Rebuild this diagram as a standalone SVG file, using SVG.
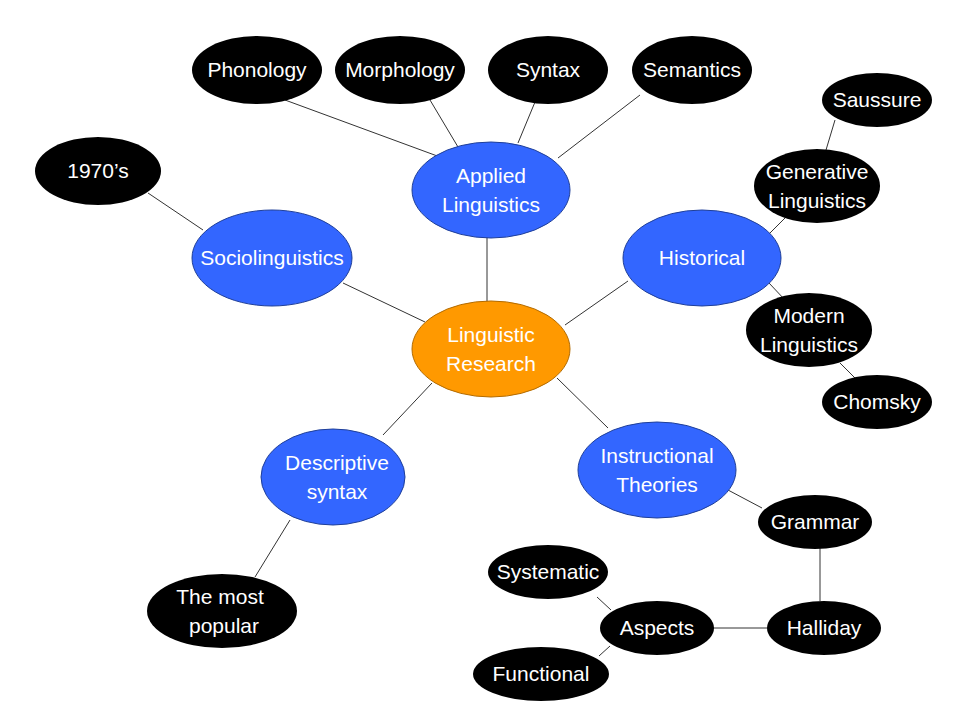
<svg xmlns="http://www.w3.org/2000/svg" width="960" height="720" viewBox="0 0 960 720">
<style>
.b{fill:#000}.u{fill:#3366ff;stroke:#1f3f99;stroke-width:1}.o{fill:#ff9900;stroke:#b36b00;stroke-width:1}
text{fill:#fff;font-family:"Liberation Sans",Arial,sans-serif;font-size:21px;text-anchor:middle}
#c line{stroke:#333;stroke-width:1}
</style>
<rect width="960" height="720" fill="#fff"/>
<g id="c">
<line x1="285" y1="100" x2="440" y2="157"/><line x1="430" y1="100" x2="458" y2="147"/>
<line x1="535" y1="102" x2="518" y2="143"/><line x1="640" y1="95" x2="558" y2="158"/>
<line x1="487" y1="236" x2="487" y2="302"/><line x1="148" y1="193" x2="203" y2="230"/>
<line x1="343" y1="283" x2="425" y2="322"/><line x1="628" y1="281" x2="565" y2="325"/>
<line x1="785" y1="218" x2="767" y2="236"/><line x1="769" y1="283" x2="785" y2="300"/>
<line x1="835" y1="120" x2="826" y2="150"/><line x1="840" y1="363" x2="855" y2="378"/>
<line x1="432" y1="383" x2="383" y2="435"/><line x1="557" y1="378" x2="608" y2="428"/>
<line x1="290" y1="520" x2="255" y2="577"/><line x1="728" y1="490" x2="762" y2="508"/>
<line x1="820" y1="548" x2="820" y2="601"/><line x1="713" y1="628" x2="767" y2="628"/>
<line x1="597" y1="597" x2="611" y2="610"/><line x1="610" y1="646" x2="599" y2="656"/>
</g>
<g id="center"><ellipse class="o" cx="491" cy="349" rx="79" ry="48"/><text x="491" y="342">Linguistic</text><text x="491" y="371">Research</text></g>
<g id="applied"><ellipse class="u" cx="491" cy="190" rx="79" ry="48"/><text x="491" y="183">Applied</text><text x="491" y="212">Linguistics</text></g>
<g id="socio"><ellipse class="u" cx="272" cy="258" rx="80" ry="48"/><text x="272" y="265">Sociolinguistics</text></g>
<g id="historical"><ellipse class="u" cx="702" cy="258" rx="79" ry="48"/><text x="702" y="265">Historical</text></g>
<g id="descriptive"><ellipse class="u" cx="333" cy="477" rx="72" ry="48"/><text x="337" y="470">Descriptive</text><text x="337" y="499">syntax</text></g>
<g id="instructional"><ellipse class="u" cx="657" cy="470" rx="79" ry="48"/><text x="657" y="463">Instructional</text><text x="657" y="492">Theories</text></g>
<g id="phonology"><ellipse class="b" cx="257" cy="70" rx="65" ry="34"/><text x="257" y="77">Phonology</text></g>
<g id="morphology"><ellipse class="b" cx="400" cy="70" rx="65" ry="34"/><text x="400" y="77">Morphology</text></g>
<g id="syntax"><ellipse class="b" cx="548" cy="70" rx="60" ry="34"/><text x="548" y="77">Syntax</text></g>
<g id="semantics"><ellipse class="b" cx="692" cy="70" rx="60" ry="34"/><text x="692" y="77">Semantics</text></g>
<g id="y1970"><ellipse class="b" cx="98" cy="171" rx="63" ry="34"/><text x="98" y="178">1970’s</text></g>
<g id="saussure"><ellipse class="b" cx="877" cy="100" rx="55" ry="27"/><text x="877" y="107">Saussure</text></g>
<g id="generative"><ellipse class="b" cx="817" cy="186" rx="63" ry="37"/><text x="817" y="179">Generative</text><text x="817" y="208">Linguistics</text></g>
<g id="modern"><ellipse class="b" cx="809" cy="330" rx="63" ry="37"/><text x="809" y="323">Modern</text><text x="809" y="352">Linguistics</text></g>
<g id="chomsky"><ellipse class="b" cx="877" cy="402" rx="55" ry="27"/><text x="877" y="409">Chomsky</text></g>
<g id="grammar"><ellipse class="b" cx="815" cy="522" rx="57" ry="27"/><text x="815" y="529">Grammar</text></g>
<g id="halliday"><ellipse class="b" cx="824" cy="628" rx="57" ry="27"/><text x="824" y="635">Halliday</text></g>
<g id="aspects"><ellipse class="b" cx="657" cy="628" rx="57" ry="27"/><text x="657" y="635">Aspects</text></g>
<g id="systematic"><ellipse class="b" cx="548" cy="572" rx="60" ry="27"/><text x="548" y="579">Systematic</text></g>
<g id="functional"><ellipse class="b" cx="541" cy="674" rx="68" ry="27"/><text x="541" y="681">Functional</text></g>
<g id="popular"><ellipse class="b" cx="222" cy="611" rx="75" ry="37"/><text x="220" y="604">The most</text><text x="224" y="633">popular</text></g>
</svg>
